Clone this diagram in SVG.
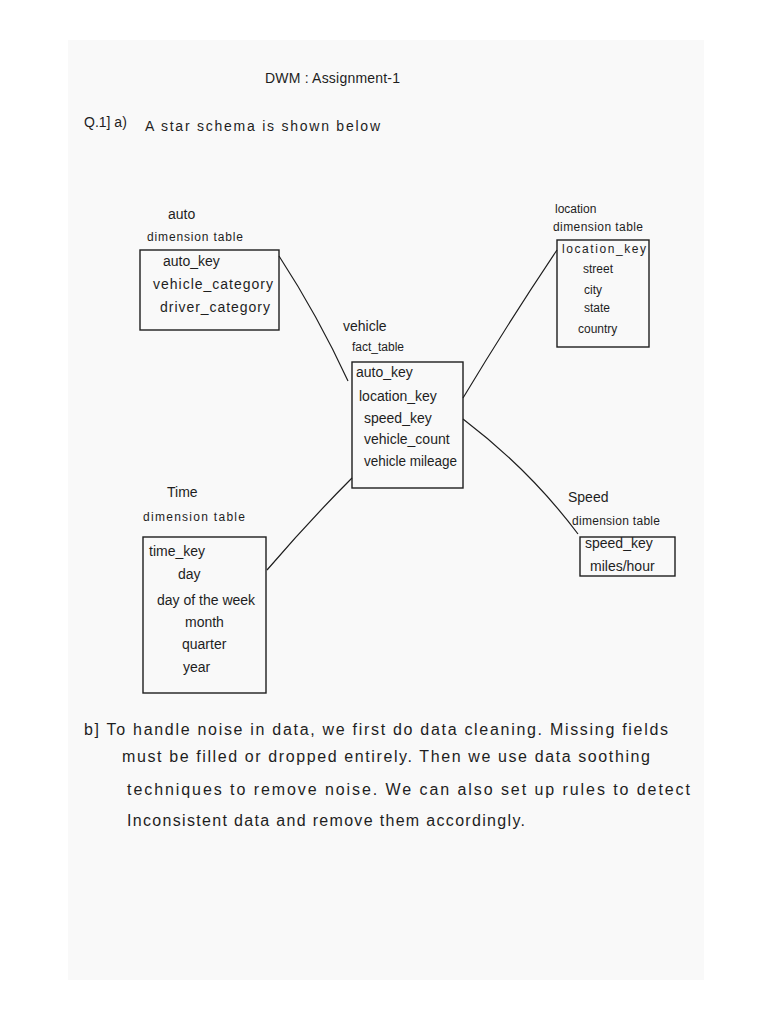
<svg xmlns="http://www.w3.org/2000/svg" width="768" height="1024" viewBox="0 0 768 1024">
<style>
.t{font-family:"Liberation Sans","DejaVu Sans",sans-serif;font-size:14px;fill:#1e1e1e}
.s{font-size:12px}
.b{font-family:"Liberation Sans","DejaVu Sans",sans-serif;font-size:16px;fill:#1e1e1e}
.box{fill:none;stroke:#1e1e1e;stroke-width:1.4}
.c{fill:none;stroke:#1e1e1e;stroke-width:1.2}
</style>
<rect x="0" y="0" width="768" height="1024" fill="#ffffff"/>
<rect x="68" y="40" width="636" height="940" fill="#f9f9f9"/>

<g id="header">
<text class="t" x="265" y="83" textLength="135" lengthAdjust="spacing">DWM : Assignment-1</text>
<text class="t" x="84" y="127">Q.1] a)</text>
<text class="t" x="145" y="131" textLength="235" lengthAdjust="spacing">A star schema is shown below</text>
</g>

<g id="connectors">
<path class="c" d="M279,256 Q318,316 348,381"/>
<path class="c" d="M557,250 Q510,320 463,398"/>
<path class="c" d="M463,419 Q530,470 578,534"/>
<path class="c" d="M267,570 Q310,520 352,478"/>
</g>

<g id="auto">
<text class="t" x="168" y="219">auto</text>
<text class="t s" x="147" y="241" textLength="96" lengthAdjust="spacing">dimension table</text>
<rect class="box" x="140" y="250" width="139" height="80"/>
<text class="t" x="163" y="266">auto_key</text>
<text class="t" x="153" y="289" textLength="120" lengthAdjust="spacing">vehicle_category</text>
<text class="t" x="160" y="312" textLength="110" lengthAdjust="spacing">driver_category</text>
</g>

<g id="vehicle">
<text class="t" x="343" y="331">vehicle</text>
<text class="t s" x="352" y="351">fact_table</text>
<rect class="box" x="352" y="362" width="111" height="126"/>
<text class="t" x="356" y="377">auto_key</text>
<text class="t" x="359" y="401">location_key</text>
<text class="t" x="364" y="423">speed_key</text>
<text class="t" x="364" y="444">vehicle_count</text>
<text class="t" x="364" y="466" textLength="93" lengthAdjust="spacingAndGlyphs">vehicle mileage</text>
</g>

<g id="location">
<text class="t s" x="555" y="213">location</text>
<text class="t s" x="553" y="231" textLength="90" lengthAdjust="spacing">dimension table</text>
<rect class="box" x="557" y="240" width="92" height="107"/>
<text class="t s" x="562" y="253" textLength="84" lengthAdjust="spacing">location_key</text>
<text class="t s" x="583" y="273">street</text>
<text class="t s" x="584" y="294">city</text>
<text class="t s" x="584" y="312">state</text>
<text class="t s" x="578" y="333">country</text>
</g>

<g id="time">
<text class="t" x="167" y="497">Time</text>
<text class="t s" x="143" y="521" textLength="102" lengthAdjust="spacing">dimension table</text>
<rect class="box" x="143" y="537" width="123" height="156"/>
<text class="t" x="149" y="556">time_key</text>
<text class="t" x="178" y="579">day</text>
<text class="t" x="157" y="605">day of the week</text>
<text class="t" x="185" y="627">month</text>
<text class="t" x="182" y="649">quarter</text>
<text class="t" x="183" y="672">year</text>
</g>

<g id="speed">
<text class="t" x="568" y="502">Speed</text>
<text class="t s" x="572" y="525" textLength="88" lengthAdjust="spacing">dimension table</text>
<rect class="box" x="580" y="537" width="95" height="39"/>
<text class="t" x="585" y="548">speed_key</text>
<text class="t" x="590" y="571">miles/hour</text>
</g>

<g id="partb">
<text class="b" x="84" y="735" textLength="584" lengthAdjust="spacing">b] To handle noise in data, we first do data cleaning. Missing fields</text>
<text class="b" x="122" y="762" textLength="528" lengthAdjust="spacing">must be filled or dropped entirely. Then we use data soothing</text>
<text class="b" x="127" y="795" textLength="563" lengthAdjust="spacing">techniques to remove noise. We can also set up rules to detect</text>
<text class="b" x="127" y="826" textLength="398" lengthAdjust="spacing">Inconsistent data and remove them accordingly.</text>
</g>
</svg>
